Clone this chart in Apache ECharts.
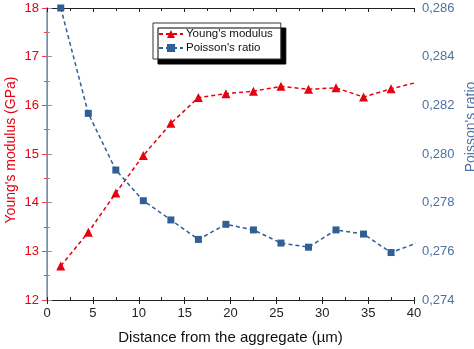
<!DOCTYPE html>
<html>
<head>
<meta charset="utf-8">
<script src="https://cdn.jsdelivr.net/npm/echarts@6/dist/echarts.min.js"></script>
<style>html,body{margin:0;padding:0;background:#fff}#c{width:474px;height:349px}</style>
</head>
<body>
<div id="c"></div>
<script>
// ---- data ----
const distance = [1.5, 4.5, 7.5, 10.5, 13.5, 16.5, 19.5, 22.5, 25.5, 28.5, 31.5, 34.5, 37.5, 40.5];
const youngModulus = [12.70, 13.39, 14.20, 14.97, 15.63, 16.16, 16.24, 16.29, 16.39, 16.33, 16.36, 16.17, 16.34, 16.48];
const poissonRatio = [0.2860, 0.28167, 0.27934, 0.27808, 0.27729, 0.27649, 0.27711, 0.27688, 0.27634, 0.27617, 0.27688, 0.27671, 0.27595, 0.27637];
const seriesNames = ["Young's modulus", "Poisson's ratio"];
const xAxisTitle = "Distance from the aggregate (\u00b5m)";
const leftAxisTitle = "Young's modulus (GPa)";
const rightAxisTitle = "Poisson's ratio";

const RED = '#e8000e';
const RED_AXIS = '#e8404a';
const BLUE = '#2f5f95';
const BLUE_AXIS = '#7f98b3';
const BLUE_TEXT = '#4d72a0';
const FONT = 'Liberation Sans, Arial, sans-serif';

const chart = echarts.init(document.getElementById('c'), null, {renderer: 'canvas'});
chart.setOption({
  animation: false,
  grid: {left: 47, right: 60, top: 8, bottom: 49, containLabel: false, outerBoundsMode: 'none'},
  legend: {
    orient: 'vertical', left: 153, top: 23,
    padding: [5, 8, 5, 5], itemGap: 2, itemWidth: 24, itemHeight: 10,
    backgroundColor: '#fff', borderColor: '#333', borderWidth: 1,
    shadowColor: '#000', shadowBlur: 0, shadowOffsetX: 5, shadowOffsetY: 5,
    textStyle: {fontFamily: FONT, fontSize: 11.5, color: '#111', padding: [0, 0, 0, -2]},
    data: seriesNames
  },
  xAxis: [
    {
      type: 'value', position: 'bottom', min: 0, max: 40, interval: 5,
      name: xAxisTitle, nameLocation: 'middle', nameGap: 30, nameMoveOverlap: false,
      nameTextStyle: {fontFamily: FONT, fontSize: 15, color: '#111'},
      axisLine: {show: true, lineStyle: {color: '#222', width: 1}},
      axisTick: {show: true, length: 4, lineStyle: {color: '#222'}},
      axisLabel: {fontFamily: FONT, fontSize: 13, color: '#222', margin: 7},
      splitLine: {show: false}
    },
    {
      type: 'value', position: 'bottom', min: 0, max: 40, interval: 5,
      axisLine: {show: false}, axisLabel: {show: false}, splitLine: {show: false},
      axisTick: {show: true, inside: true, length: 3, lineStyle: {color: '#222'}},
      minorTick: {show: true, splitNumber: 2, length: 3, lineStyle: {color: '#222'}}
    },
    {
      type: 'value', position: 'top', min: 0, max: 40, interval: 5,
      axisLine: {show: true, lineStyle: {color: '#222', width: 1}},
      axisLabel: {show: false}, splitLine: {show: false},
      axisTick: {show: true, inside: true, length: 4, lineStyle: {color: '#222'}},
      minorTick: {show: true, splitNumber: 2, length: 3, lineStyle: {color: '#222'}}
    }
  ],
  yAxis: [
    {
      type: 'value', position: 'left', min: 12, max: 18, interval: 1,
      name: leftAxisTitle, nameLocation: 'middle', nameGap: 29, nameRotate: 90, nameMoveOverlap: false,
      nameTextStyle: {fontFamily: FONT, fontSize: 14, color: RED, padding: [0, 0, 0, 8]},
      axisLine: {show: true, lineStyle: {color: RED_AXIS, width: 1}},
      axisTick: {show: true, length: 5, lineStyle: {color: RED_AXIS}},
      minorTick: {show: true, splitNumber: 2, length: 3, lineStyle: {color: RED_AXIS}},
      axisLabel: {fontFamily: FONT, fontSize: 13, color: RED, margin: 8},
      splitLine: {show: false}
    },
    {
      type: 'value', position: 'right', min: 0.274, max: 0.286, interval: 0.002,
      name: rightAxisTitle, nameLocation: 'middle', nameGap: 50, nameRotate: 90, nameMoveOverlap: false,
      nameTextStyle: {fontFamily: FONT, fontSize: 14, color: BLUE_TEXT, padding: [0, 0, 0, 54]},
      axisLine: {show: true, lineStyle: {color: BLUE_AXIS, width: 1.5}},
      axisTick: {show: true, length: 5, lineStyle: {color: BLUE_AXIS}},
      minorTick: {show: true, splitNumber: 2, length: 3, lineStyle: {color: BLUE_AXIS}},
      axisLabel: {fontFamily: FONT, fontSize: 13, color: BLUE_TEXT, margin: 8,
        formatter: v => v.toFixed(3).replace('.', ',')},
      splitLine: {show: false}
    }
  ],
  series: [
    {
      name: seriesNames[0], type: 'line', xAxisIndex: 0, yAxisIndex: 0,
      data: distance.map((d, i) => [d, youngModulus[i]]),
      symbol: 'triangle', symbolSize: 9, clip: true,
      itemStyle: {color: RED},
      lineStyle: {color: RED, width: 1.5, type: [4, 3]}
    },
    {
      name: seriesNames[1], type: 'line', xAxisIndex: 0, yAxisIndex: 1,
      data: distance.map((d, i) => [d, poissonRatio[i]]),
      symbol: 'rect', symbolSize: 7, clip: true,
      itemStyle: {color: BLUE},
      lineStyle: {color: BLUE, width: 1.5, type: [4, 3]}
    }
  ]
});
</script>
</body>
</html>
